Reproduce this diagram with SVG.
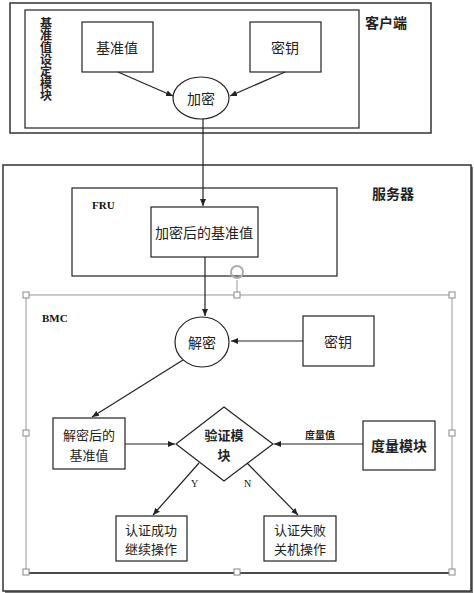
<svg xmlns="http://www.w3.org/2000/svg" width="474" height="593" viewBox="0 0 474 593">
<defs>
<marker id="ah" markerWidth="8" markerHeight="8" refX="7" refY="4" orient="auto" markerUnits="userSpaceOnUse">
<path d="M0,1 L7,4 L0,7 Z" fill="#222"/>
</marker>
<style>
.box{fill:#fff;stroke:#222;stroke-width:1.2}
.frame{fill:none;stroke:#333;stroke-width:1.5}
.t{font-family:"Noto Sans CJK SC","Noto Sans",sans-serif;font-size:14px;fill:#222;text-anchor:middle;dominant-baseline:central}
.b{font-weight:bold}
.two{font-size:13px}
.vt{font-family:"Noto Sans CJK SC","Noto Sans",sans-serif;font-size:12px;font-weight:bold;fill:#222;writing-mode:vertical-rl;text-anchor:start}
.sm{font-size:10px}
.ser{font-family:"Liberation Serif",serif;font-weight:bold;font-size:11px;fill:#111}
.yn{font-weight:normal;font-size:10px}
.ln{stroke:#222;stroke-width:1.2;fill:none}
.sel{fill:none;stroke:#999;stroke-width:1}
.h{fill:#fff;stroke:#888;stroke-width:1}
</style>
</defs>
<rect width="474" height="593" fill="#fff"/>

<g id="client">
<rect class="frame" x="10" y="3" width="421" height="130"/>
<rect class="box" x="25" y="10" width="334" height="118"/>
<text class="t b" x="386" y="22">客户端</text>
<text class="vt" x="46" y="17">基准值设定模块</text>
</g>
<g id="jizhunzhi">
<rect class="box" x="82" y="22" width="71" height="50"/>
<text class="t" x="117" y="47">基准值</text>
</g>
<g id="miyao1">
<rect class="box" x="250" y="22" width="71" height="50"/>
<text class="t" x="285" y="47">密钥</text>
</g>
<g id="jiami">
<ellipse class="box" cx="201" cy="98" rx="28" ry="21"/>
<text class="t" x="201" y="98">加密</text>
</g>

<g id="server">
<rect x="5" y="167" width="468" height="426" fill="#777"/>
<rect x="3" y="165" width="468" height="426" fill="#fff" stroke="#333" stroke-width="1.5"/>
<text class="t b" x="393" y="193">服务器</text>
</g>
<g id="fru">
<rect class="box" x="72" y="188" width="265" height="88"/>
<text class="ser" x="92" y="209">FRU</text>
</g>
<g id="encval">
<rect class="box" x="151" y="207" width="107" height="50"/>
<text class="t" x="204" y="232">加密后的基准值</text>
</g>

<g id="bmc">
<rect class="sel" x="26" y="295" width="426" height="278"/>
<line x1="26" y1="573" x2="452" y2="573" stroke="#222" stroke-width="1.5"/>
<line class="sel" x1="237" y1="280" x2="237" y2="295"/>
<circle cx="237" cy="272" r="6" fill="none" stroke="#aaa" stroke-width="2"/>
<rect class="h" x="23" y="292" width="6" height="6"/>
<rect class="h" x="234" y="292" width="6" height="6"/>
<rect class="h" x="449" y="292" width="6" height="6"/>
<rect class="h" x="23" y="430" width="6" height="6"/>
<rect class="h" x="449" y="430" width="6" height="6"/>
<rect class="h" x="23" y="569" width="6" height="6"/>
<rect class="h" x="234" y="569" width="6" height="6"/>
<rect class="h" x="449" y="569" width="6" height="6"/>
<text class="ser" x="42" y="322">BMC</text>
</g>
<g id="jiemi">
<ellipse class="box" cx="202" cy="342" rx="27" ry="25"/>
<text class="t" x="202" y="342">解密</text>
</g>
<g id="miyao2">
<rect class="box" x="303" y="316" width="71" height="50"/>
<text class="t" x="338" y="341">密钥</text>
</g>
<g id="decval">
<rect class="box" x="53" y="418" width="72" height="51"/>
<text class="t two"><tspan x="89" y="434">解密后的</tspan><tspan x="89" y="453.5">基准值</tspan></text>
</g>
<g id="verify">
<polygon class="box" points="224,407 273,444 224,481 176,444"/>
<text class="t b two"><tspan x="224" y="434">验证模</tspan><tspan x="224" y="453.5">块</tspan></text>
</g>
<g id="measure">
<rect class="box" x="363" y="421" width="72" height="49"/>
<text class="t b" x="399" y="445">度量模块</text>
</g>
<g id="success">
<rect class="box" x="116" y="516" width="71" height="45"/>
<text class="t two"><tspan x="151" y="528.5">认证成功</tspan><tspan x="151" y="548">继续操作</tspan></text>
</g>
<g id="fail">
<rect class="box" x="264" y="516" width="72" height="45"/>
<text class="t two"><tspan x="300" y="528.5">认证失败</tspan><tspan x="300" y="548">关机操作</tspan></text>
</g>

<g id="connectors">
<line class="ln" x1="118" y1="72" x2="173" y2="96" marker-end="url(#ah)"/>
<line class="ln" x1="285" y1="72" x2="230" y2="96" marker-end="url(#ah)"/>
<line class="ln" x1="203" y1="119" x2="203" y2="206" marker-end="url(#ah)"/>
<line class="ln" x1="205" y1="257" x2="205" y2="316" marker-end="url(#ah)"/>
<line class="ln" x1="303" y1="341" x2="231" y2="341" marker-end="url(#ah)"/>
<line class="ln" x1="183" y1="360" x2="92" y2="417" marker-end="url(#ah)"/>
<line class="ln" x1="125" y1="444" x2="175" y2="444" marker-end="url(#ah)"/>
<line class="ln" x1="363" y1="444" x2="274" y2="444" marker-end="url(#ah)"/>
<line class="ln" x1="199" y1="463" x2="153" y2="515" marker-end="url(#ah)"/>
<line class="ln" x1="247" y1="463" x2="298" y2="515" marker-end="url(#ah)"/>
<text class="t b sm" x="320" y="434">度量值</text>
<text class="ser yn" x="191" y="487">Y</text>
<text class="ser yn" x="244" y="487">N</text>
</g>
</svg>
